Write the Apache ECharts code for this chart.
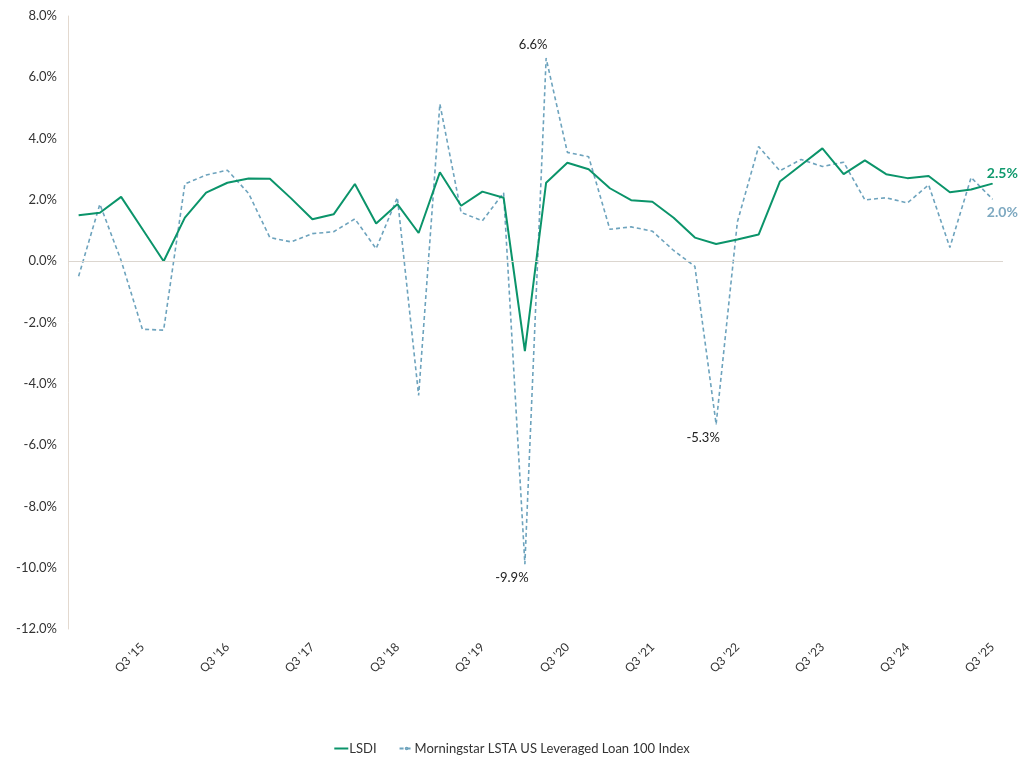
<!DOCTYPE html>
<html>
<head>
<meta charset="utf-8">
<script src="https://cdn.jsdelivr.net/npm/echarts@6/dist/echarts.min.js"></script>
<style>html,body{margin:0;padding:0;background:#fff}#c{width:1024px;height:761px}</style>
</head>
<body>
<div id="c"></div>
<script>
const quarters = ["Q4 '14","Q1 '15","Q2 '15","Q3 '15","Q4 '15","Q1 '16","Q2 '16","Q3 '16","Q4 '16","Q1 '17","Q2 '17","Q3 '17","Q4 '17","Q1 '18","Q2 '18","Q3 '18","Q4 '18","Q1 '19","Q2 '19","Q3 '19","Q4 '19","Q1 '20","Q2 '20","Q3 '20","Q4 '20","Q1 '21","Q2 '21","Q3 '21","Q4 '21","Q1 '22","Q2 '22","Q3 '22","Q4 '22","Q1 '23","Q2 '23","Q3 '23","Q4 '23","Q1 '24","Q2 '24","Q3 '24","Q4 '24","Q1 '25","Q2 '25","Q3 '25"];
const lsdi = [1.50,1.58,2.10,1.05,0.00,1.42,2.24,2.56,2.70,2.69,2.05,1.37,1.53,2.52,1.23,1.86,0.92,2.90,1.81,2.27,2.07,-2.93,2.56,3.21,3.00,2.38,1.99,1.94,1.42,0.77,0.56,0.71,0.87,2.60,3.14,3.68,2.84,3.29,2.84,2.71,2.78,2.25,2.34,2.53];
const morningstar = [-0.49,1.86,0.02,-2.22,-2.25,2.52,2.81,2.97,2.21,0.77,0.63,0.90,0.96,1.38,0.41,2.08,-4.38,5.13,1.59,1.32,2.23,-9.88,6.62,3.55,3.41,1.04,1.12,0.98,0.35,-0.17,-5.32,1.28,3.74,2.95,3.32,3.09,3.23,2.00,2.07,1.90,2.49,0.45,2.73,2.03];
const yTicks = {min:-12, max:8, interval:2};
const seriesNames = ["LSDI","Morningstar LSTA US Leveraged Loan 100 Index"];

const FONT = 'Lato';
const greenC = '#0b946a';
const blueC = '#6da3bd';

function labelFor(arr, idx){ return arr[idx].toFixed(1) + '%'; }

const lsdiData = lsdi.map((v,i)=>{
  if(i===lsdi.length-1){
    return {value:v, symbol:'circle', symbolSize:1,
      label:{show:true, position:'top', distance:3, offset:[10,0], color:'#109a6e', fontWeight:'bold', fontSize:14, fontFamily:FONT, formatter:()=>labelFor(lsdi,i)}};
  }
  return {value:v, symbol:'none'};
});
const msExtreme = {21:'bottom',22:'top',30:'bottom'};
const msData = morningstar.map((v,i)=>{
  if(i===morningstar.length-1){
    return {value:v, symbol:'circle', symbolSize:1,
      label:{show:true, position:'bottom', distance:6, offset:[10,0], color:'#7ea9c1', fontWeight:'bold', fontSize:14, fontFamily:FONT, formatter:()=>labelFor(morningstar,i)}};
  }
  if(msExtreme[i]){
    return {value:v, symbol:'circle', symbolSize:1,
      label:{show:true, position:msExtreme[i], distance:msExtreme[i]==='top'?6:7, offset:[-13,0], color:'#222', fontSize:13, fontFamily:FONT, formatter:()=>labelFor(morningstar,i)}};
  }
  return {value:v, symbol:'none'};
});

const chart = echarts.init(document.getElementById('c'), null, {renderer:'canvas'});
chart.setOption({
  animation:false,
  textStyle:{fontFamily:FONT},
  grid:{left:68, right:21, top:16, bottom:132, containLabel:false},
  legend:{
    bottom:1, left:'center',
    itemWidth:14, itemHeight:2, itemGap:22,
    textStyle:{fontFamily:FONT, fontSize:13, color:'#333', padding:[0,0,0,-4]},
    data:[
      {name:seriesNames[0], icon:'rect'},
      {name:seriesNames[1]}
    ]
  },
  xAxis:{
    type:'category', data:quarters, boundaryGap:true,
    axisLine:{show:false}, axisTick:{show:false},
    axisLabel:{
      interval:(idx)=>idx%4===3, rotate:45, margin:16,
      color:'#333', fontSize:12, fontFamily:FONT
    }
  },
  yAxis:{
    type:'value', min:yTicks.min, max:yTicks.max, interval:yTicks.interval,
    axisLine:{show:true, lineStyle:{color:'#e3d9cf', width:1}},
    axisTick:{show:false}, splitLine:{show:false},
    axisLabel:{margin:11, color:'#333', fontSize:13, fontFamily:FONT, formatter:(v)=>v.toFixed(1)+'%'}
  },
  series:[
    {
      name:seriesNames[0], type:'line', data:lsdiData, showSymbol:true,
      lineStyle:{color:greenC, width:2}, itemStyle:{color:greenC}, z:3,
      markLine:{silent:true, symbol:'none', label:{show:false}, lineStyle:{color:'#dcd6cf', width:1, type:'solid'}, data:[{yAxis:0}]}
    },
    {
      name:seriesNames[1], type:'line', data:msData, showSymbol:true,
      lineStyle:{color:blueC, width:1.6, type:[4,3]}, itemStyle:{color:blueC}, z:2
    }
  ]
});
</script>
</body>
</html>
